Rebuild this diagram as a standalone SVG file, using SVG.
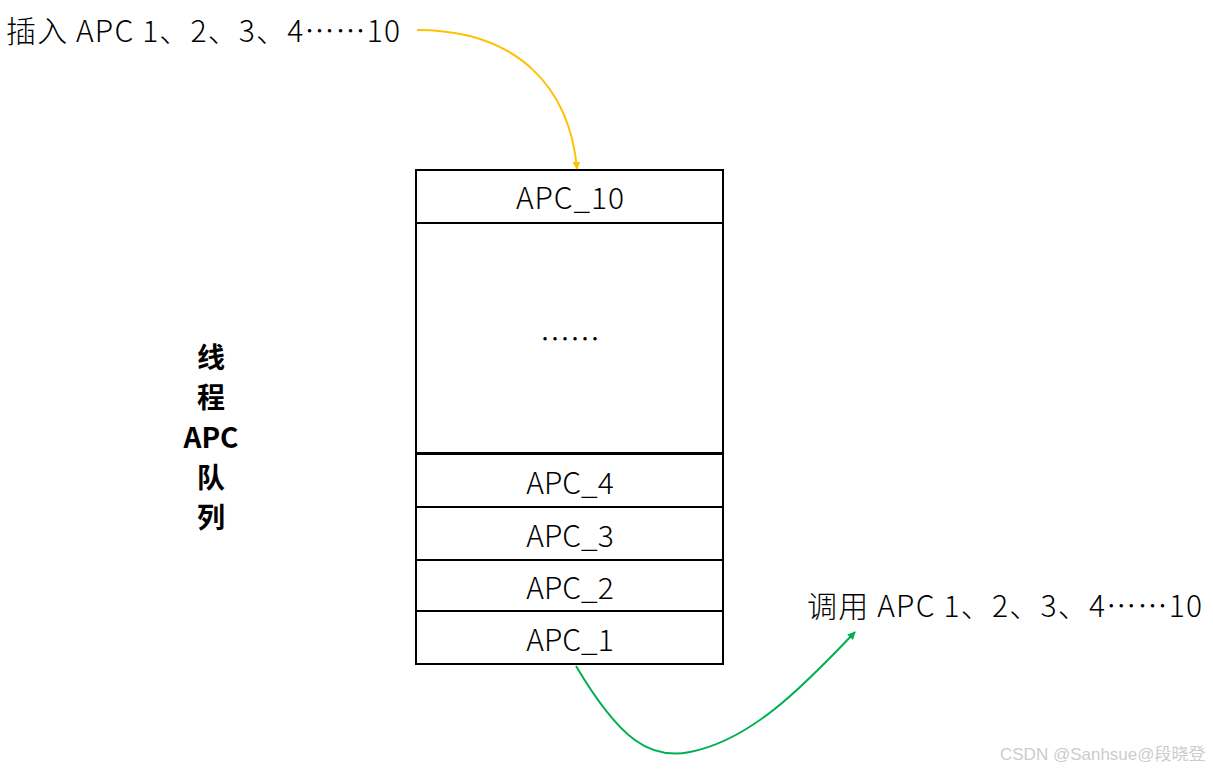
<svg xmlns="http://www.w3.org/2000/svg" width="1213" height="773" viewBox="0 0 1213 773">
<style>
.t{font-family:"Noto Sans CJK SC",sans-serif;font-size:30px;font-weight:300;fill:#000}
.c{text-anchor:middle}
.b{fill:#fff;stroke:#000;stroke-width:2}
.v{font-family:"Noto Sans CJK SC",sans-serif;font-size:28px;font-weight:bold;text-anchor:middle}
</style>
<defs>
<marker id="ay" viewBox="0 0 10 10" refX="9" refY="5" markerWidth="4" markerHeight="4" orient="auto"><path d="M0,0L10,5L0,10z" fill="#FFC000"/></marker>
<marker id="ag" viewBox="0 0 10 10" refX="9" refY="5" markerWidth="4" markerHeight="4" orient="auto"><path d="M0,0L10,5L0,10z" fill="#00B050"/></marker>
</defs>
<rect width="1213" height="773" fill="#fff"/>
<g id="queue">
<rect id="n10" class="b" x="416" y="170" width="307" height="53"/>
<rect id="ndots" class="b" x="416" y="223" width="307" height="230"/>
<rect id="n4" class="b" x="416" y="454" width="307" height="53"/>
<rect id="n3" class="b" x="416" y="507" width="307" height="53"/>
<rect id="n2" class="b" x="416" y="560" width="307" height="51"/>
<rect id="n1" class="b" x="416" y="611" width="307" height="53"/>
<text class="t c" x="570" y="209" textLength="108">APC_10</text>
<text class="t c" x="570" y="350" font-size="26">……</text>
<text class="t c" x="570" y="494">APC_4</text>
<text class="t c" x="570" y="547">APC_3</text>
<text class="t c" x="570" y="599">APC_2</text>
<text class="t c" x="570" y="651">APC_1</text>
</g>
<g id="label">
<text class="v" x="211" y="368">线</text>
<text class="v" x="211" y="408">程</text>
<text class="v" x="211" y="448">APC</text>
<text class="v" x="211" y="488">队</text>
<text class="v" x="211" y="528">列</text>
</g>
<g id="insert"><text class="t" x="6" y="42" textLength="394">插入 APC 1、2、3、4……10</text></g>
<g id="call"><text class="t" x="807" y="617" textLength="395">调用 APC 1、2、3、4……10</text></g>
<g id="connectors" fill="none" stroke-width="2">
<path d="M417,30 C520,30 570,90 577,169" stroke="#FFC000" marker-end="url(#ay)"/>
<path d="M576,666 C620,740 650,760 690,752 C750,740 800,690 855,632" stroke="#00B050" marker-end="url(#ag)"/>
</g>
<text x="1000" y="760" font-family="Liberation Sans,Noto Sans CJK SC,sans-serif" font-size="17" fill="#ccc">CSDN @Sanhsue@段晓登</text>
</svg>
